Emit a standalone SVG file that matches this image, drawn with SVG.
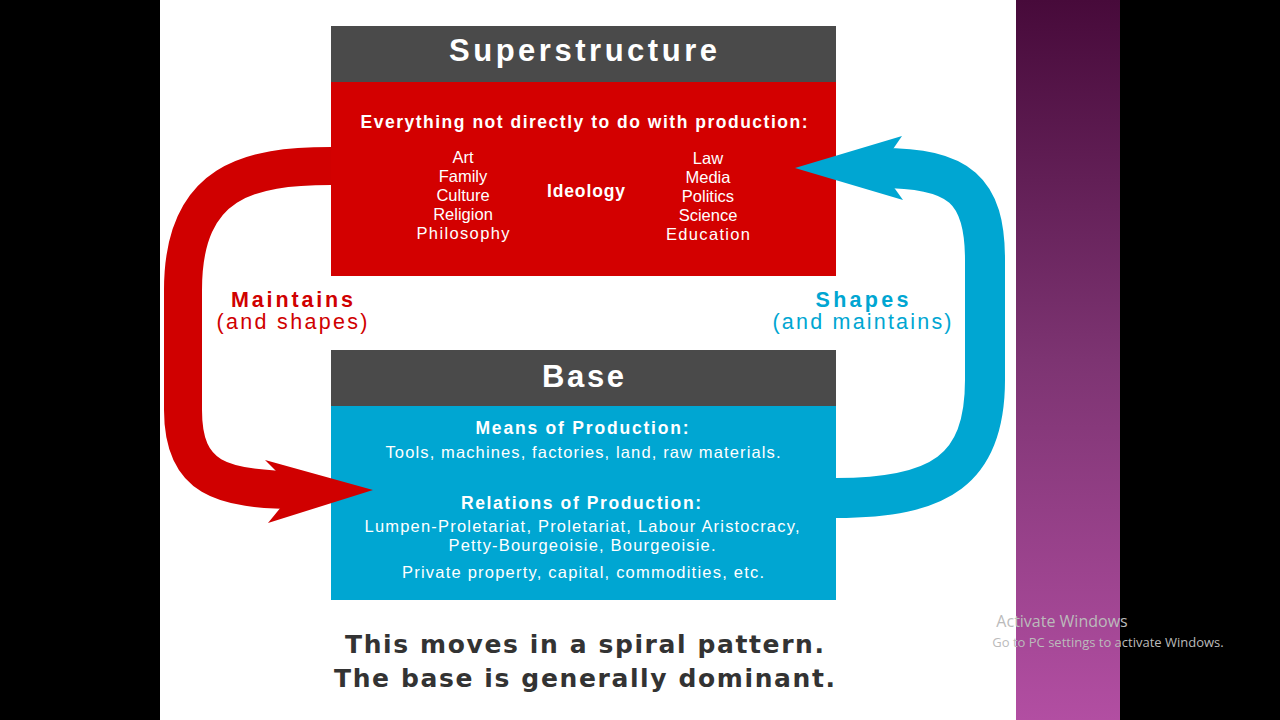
<svg xmlns="http://www.w3.org/2000/svg" width="1280" height="720" viewBox="0 0 1280 720">
<style>
text{font-family:"Liberation Sans",Arial,sans-serif;text-anchor:middle}
.h{font-weight:bold;fill:#fff;font-size:31px}
.w{fill:#fff;font-size:16.5px}
.wb{fill:#fff;font-size:17.5px;font-weight:bold}
.big{font-family:"DejaVu Sans",sans-serif;font-weight:bold;fill:#333;font-size:25px;letter-spacing:1px}
</style>
<defs>
<linearGradient id="pg" x1="0" y1="0" x2="0" y2="1"><stop offset="0" stop-color="#470a3a"/><stop offset="0.5" stop-color="#7d3472"/><stop offset="1" stop-color="#b24ea2"/></linearGradient>
</defs>
<rect width="1280" height="720" fill="#000"/>
<rect x="160" y="0" width="856" height="720" fill="#fff"/>
<rect x="1016" y="0" width="104" height="720" fill="url(#pg)"/>
<g id="superstructure">
<rect x="331" y="26" width="505" height="56" fill="#4a4a4a"/>
<rect x="331" y="82" width="505" height="194" fill="#d30000"/>
<text class="h" x="583" y="61" textLength="268">Superstructure</text>
<text class="wb" x="584" y="128" textLength="447">Everything not directly to do with production:</text>
<text class="w" x="463" y="163">Art</text><text class="w" x="463" y="182">Family</text><text class="w" x="463" y="201">Culture</text><text class="w" x="463" y="220">Religion</text><text class="w" x="463" y="239" textLength="93">Philosophy</text>
<text class="wb" x="586" y="197" textLength="78">Ideology</text>
<text class="w" x="708" y="164">Law</text><text class="w" x="708" y="183">Media</text><text class="w" x="708" y="202">Politics</text><text class="w" x="708" y="221">Science</text><text class="w" x="708" y="240" textLength="84">Education</text>
</g>
<g id="base">
<rect x="331" y="350" width="505" height="56" fill="#4a4a4a"/>
<rect x="331" y="406" width="505" height="194" fill="#00a6d2"/>
<text class="h" x="583" y="387" textLength="82">Base</text>
<text class="wb" x="582" y="434" textLength="213">Means of Production:</text>
<text class="w" x="583" y="458" textLength="395">Tools, machines, factories, land, raw materials.</text>
<text class="wb" x="581" y="509" textLength="240">Relations of Production:</text>
<text class="w" x="582" y="532" textLength="435">Lumpen-Proletariat, Proletariat, Labour Aristocracy,</text>
<text class="w" x="582" y="551" textLength="267">Petty-Bourgeoisie, Bourgeoisie.</text>
<text class="w" x="583" y="578" textLength="362">Private property, capital, commodities, etc.</text>
</g>
<g id="connectors">
<path d="M331,166 C250,166 183,180 183,290 L183,410 C183,478 220,490 300,490" fill="none" stroke="#d00000" stroke-width="38"/>
<polygon points="265,460 373,490 268,523 295,490" fill="#d00000"/>
<path d="M836,498 C940,498 985,470 985,380 L985,260 C985,190 960,168 880,168" fill="none" stroke="#00a6d2" stroke-width="40"/>
<polygon points="902,136 795,168 903,200 880,168" fill="#00a6d2"/>
</g>
<g id="labels">
<text x="292" y="307" font-size="21.5" font-weight="bold" fill="#d00000" textLength="122">Maintains</text>
<text x="292" y="329" font-size="21.5" fill="#d00000" textLength="151">(and shapes)</text>
<text x="862" y="307" font-size="21.5" font-weight="bold" fill="#00a6d2" textLength="93">Shapes</text>
<text x="862" y="329" font-size="21.5" fill="#00a6d2" textLength="179">(and maintains)</text>
<text class="big" x="585" y="653" textLength="480">This moves in a spiral pattern.</text>
<text class="big" x="585" y="687" textLength="502">The base is generally dominant.</text>
<text x="1062" y="627" font-size="16" fill="#bbb" style="font-family:'Open Sans',sans-serif">Activate Windows</text>
<text x="1108" y="647" font-size="13" fill="#bbb" style="font-family:'Open Sans',sans-serif">Go to PC settings to activate Windows.</text>
</g>
</svg>
